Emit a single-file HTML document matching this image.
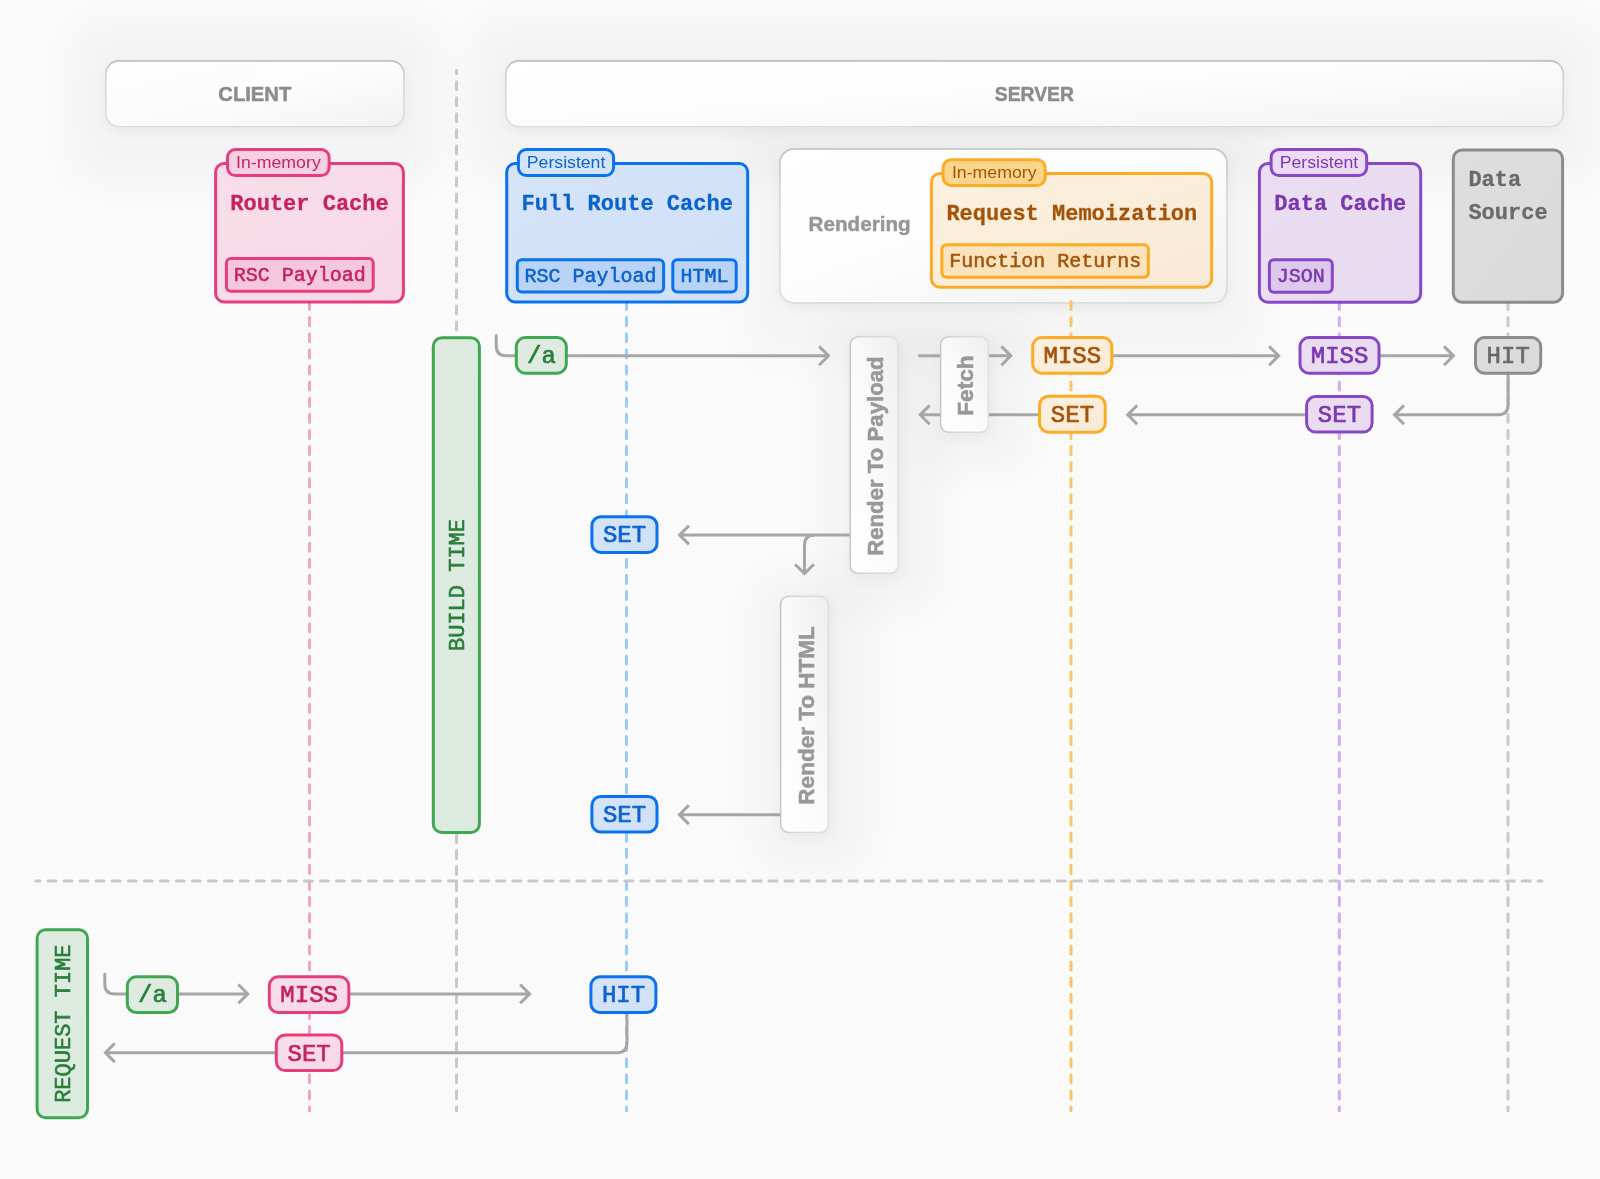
<!DOCTYPE html>
<html lang="en"><head><meta charset="utf-8"><title>Caching overview</title>
<style>html,body{margin:0;padding:0;background:#FAFAFA}body{width:1600px;height:1179px;overflow:hidden}svg{display:block;will-change:transform;opacity:0.9999}</style>
</head><body>
<svg width="1600" height="1179" viewBox="0 0 1600 1179">
<defs>
<filter id="bl" filterUnits="userSpaceOnUse" x="-100" y="-100" width="1800" height="1400"><feGaussianBlur stdDeviation="20"/></filter>
<filter id="sh" x="-10%" y="-40%" width="120%" height="200%"><feDropShadow dx="0" dy="4" stdDeviation="7" flood-color="#000" flood-opacity="0.045"/></filter>
<filter id="sh2" x="-80%" y="-20%" width="260%" height="140%"><feDropShadow dx="3" dy="4" stdDeviation="7" flood-color="#000" flood-opacity="0.05"/></filter>
<linearGradient id="gw" x1="0" y1="0" x2="1" y2="1"><stop offset="0" stop-color="#FFFFFF"/><stop offset="0.45" stop-color="#FDFDFD"/><stop offset="1" stop-color="#F2F2F2"/></linearGradient>
<linearGradient id="gwv" x1="0" y1="1" x2="1" y2="0"><stop offset="0" stop-color="#FFFFFF"/><stop offset="0.45" stop-color="#FBFBFB"/><stop offset="1" stop-color="#EEEEEE"/></linearGradient>
<linearGradient id="gbv" x1="0" y1="0" x2="1" y2="0"><stop offset="0" stop-color="#C6C6C6"/><stop offset="0.3" stop-color="#D8D8D8"/><stop offset="1" stop-color="#DEDEDE"/></linearGradient>
<linearGradient id="gb" x1="0" y1="0" x2="0" y2="1"><stop offset="0" stop-color="#BFBFBF"/><stop offset="0.3" stop-color="#D6D6D6"/><stop offset="1" stop-color="#DCDCDC"/></linearGradient>

<linearGradient id="gpink" x1="0" y1="0" x2="1" y2="1"><stop offset="0" stop-color="#F8DEE8"/><stop offset="1" stop-color="#F7D9E5"/></linearGradient>
<linearGradient id="gblue" x1="0" y1="0" x2="1" y2="1"><stop offset="0" stop-color="#D6E4F8"/><stop offset="1" stop-color="#CFE0F8"/></linearGradient>
<linearGradient id="gamber" x1="0" y1="0" x2="1" y2="1"><stop offset="0" stop-color="#FCF0DE"/><stop offset="1" stop-color="#F8EAD6"/></linearGradient>
<linearGradient id="gpurple" x1="0" y1="0" x2="1" y2="1"><stop offset="0" stop-color="#EBDDF1"/><stop offset="1" stop-color="#E8DAF0"/></linearGradient>
<linearGradient id="ggrey" x1="0" y1="0" x2="1" y2="1"><stop offset="0" stop-color="#DEDEDE"/><stop offset="1" stop-color="#DADADA"/></linearGradient>
<linearGradient id="ggreen" x1="0" y1="0" x2="1" y2="1"><stop offset="0" stop-color="#DFEBE1"/><stop offset="1" stop-color="#DCEADF"/></linearGradient>
</defs>
<rect width="1600" height="1179" fill="#FAFAFA"/>
<rect x="67.9" y="18.9" width="374.1" height="165.8" rx="30" fill="#000" opacity="0.022" filter="url(#bl)"/>
<rect x="467.9" y="18.9" width="1133.3" height="165.8" rx="30" fill="#000" opacity="0.022" filter="url(#bl)"/>
<rect x="741.9" y="107.1" width="523.1" height="253.8" rx="30" fill="#000" opacity="0.02" filter="url(#bl)"/>
<rect x="819.9" y="312.6" width="122.7" height="299.2" rx="30" fill="#000" opacity="0.022" filter="url(#bl)"/>
<rect x="910.3" y="312.6" width="122.5" height="158.1" rx="30" fill="#000" opacity="0.022" filter="url(#bl)"/>
<rect x="750.3" y="572.0" width="122.4" height="299.0" rx="30" fill="#000" opacity="0.022" filter="url(#bl)"/>
<rect x="105.90" y="60.90" width="298.10" height="65.80" rx="13" fill="url(#gw)" stroke="url(#gb)" stroke-width="1.6" filter="url(#sh)"/>
<rect x="505.90" y="60.90" width="1057.30" height="65.80" rx="13" fill="url(#gw)" stroke="url(#gb)" stroke-width="1.6" filter="url(#sh)"/>
<text x="254.80" y="100.90" font-family='"Liberation Sans", "DejaVu Sans", sans-serif' font-size="20.3" font-weight="bold" fill="#8C8C8C" text-anchor="middle" textLength="73.00" lengthAdjust="spacingAndGlyphs" stroke="#8C8C8C" stroke-width="0.5" stroke-linejoin="round" >CLIENT</text>
<text x="1034.40" y="100.90" font-family='"Liberation Sans", "DejaVu Sans", sans-serif' font-size="20.3" font-weight="bold" fill="#8C8C8C" text-anchor="middle" textLength="79.20" lengthAdjust="spacingAndGlyphs" stroke="#8C8C8C" stroke-width="0.5" stroke-linejoin="round" >SERVER</text>
<rect x="779.90" y="149.05" width="447.10" height="153.80" rx="14" fill="url(#gw)" stroke="url(#gb)" stroke-width="1.6" filter="url(#sh)"/>
<text x="808.60" y="230.80" font-family='"Liberation Sans", "DejaVu Sans", sans-serif' font-size="20.3" font-weight="bold" fill="#979797" text-anchor="start" textLength="102.00" lengthAdjust="spacingAndGlyphs" stroke="#979797" stroke-width="0.5" stroke-linejoin="round" >Rendering</text>
<line x1="456.5" y1="70.3" x2="456.5" y2="1110.8" stroke="#C8C8C8" stroke-width="3" stroke-dasharray="8.0 8.015" stroke-dashoffset="4.5" stroke-linecap="round"/>
<line x1="309.5" y1="301.5" x2="309.5" y2="1110.8" stroke="#F3A3C8" stroke-width="3" stroke-dasharray="8.05 8.06" stroke-dashoffset="0" stroke-linecap="round"/>
<line x1="626.5" y1="301.5" x2="626.5" y2="1110.8" stroke="#9CCBFA" stroke-width="3" stroke-dasharray="8.05 8.06" stroke-dashoffset="0" stroke-linecap="round"/>
<line x1="1071" y1="301.5" x2="1071" y2="1110.8" stroke="#F9C566" stroke-width="3" stroke-dasharray="8.05 8.06" stroke-dashoffset="0" stroke-linecap="round"/>
<line x1="1339.3" y1="301.5" x2="1339.3" y2="1110.8" stroke="#D6A9F2" stroke-width="3" stroke-dasharray="8.05 8.06" stroke-dashoffset="0" stroke-linecap="round"/>
<line x1="1508" y1="301.5" x2="1508" y2="1110.8" stroke="#CACACA" stroke-width="3" stroke-dasharray="8.05 8.06" stroke-dashoffset="0" stroke-linecap="round"/>
<line x1="35.7" y1="880.9" x2="1541.9" y2="880.9" stroke="#C8C8C8" stroke-width="3" stroke-dasharray="8.01 8.013" stroke-dashoffset="3.7" stroke-linecap="round"/>
<rect x="215.60" y="163.50" width="187.80" height="138.50" rx="8.5" fill="url(#gpink)" stroke="#E73C7E" stroke-width="3" />
<rect x="227.50" y="149.40" width="101.60" height="26.20" rx="8" fill="#F7D1E3" stroke="#E73C7E" stroke-width="3" />
<text x="278.40" y="167.90" font-family='"Liberation Sans", "DejaVu Sans", sans-serif' font-size="16" font-weight="normal" fill="#C4245F" text-anchor="middle" textLength="84.70" lengthAdjust="spacingAndGlyphs" >In-memory</text>
<text x="230.30" y="210.00" font-family='"Liberation Mono", "DejaVu Sans Mono", monospace' font-size="22" font-weight="bold" fill="#C4245F" text-anchor="start" stroke="#C4245F" stroke-width="0.28" stroke-linejoin="round" >Router Cache</text>
<rect x="226.40" y="258.40" width="146.80" height="32.90" rx="4.5" fill="#F5C7DC" stroke="#E73C7E" stroke-width="3" />
<text x="299.80" y="280.60" font-family='"Liberation Mono", "DejaVu Sans Mono", monospace' font-size="20" font-weight="normal" fill="#C4245F" text-anchor="middle" stroke="#C4245F" stroke-width="0.55" stroke-linejoin="round" >RSC Payload</text>
<rect x="506.70" y="163.50" width="241.00" height="138.50" rx="8.5" fill="url(#gblue)" stroke="#0A72EF" stroke-width="3" />
<rect x="518.40" y="149.40" width="95.20" height="26.20" rx="8" fill="#D3E4FB" stroke="#0A72EF" stroke-width="3" />
<text x="566.10" y="167.90" font-family='"Liberation Sans", "DejaVu Sans", sans-serif' font-size="16" font-weight="normal" fill="#0A63CF" text-anchor="middle" textLength="78.50" lengthAdjust="spacingAndGlyphs" >Persistent</text>
<text x="521.60" y="210.00" font-family='"Liberation Mono", "DejaVu Sans Mono", monospace' font-size="22" font-weight="bold" fill="#0A63CF" text-anchor="start" stroke="#0A63CF" stroke-width="0.28" stroke-linejoin="round" >Full Route Cache</text>
<rect x="517.30" y="259.70" width="146.30" height="32.40" rx="4.5" fill="#B9D3F7" stroke="#0A72EF" stroke-width="3" />
<text x="590.45" y="282.00" font-family='"Liberation Mono", "DejaVu Sans Mono", monospace' font-size="20" font-weight="normal" fill="#0A63CF" text-anchor="middle" stroke="#0A63CF" stroke-width="0.55" stroke-linejoin="round" >RSC Payload</text>
<rect x="672.80" y="259.70" width="63.40" height="32.40" rx="4.5" fill="#B9D3F7" stroke="#0A72EF" stroke-width="3" />
<text x="704.50" y="282.00" font-family='"Liberation Mono", "DejaVu Sans Mono", monospace' font-size="20" font-weight="normal" fill="#0A63CF" text-anchor="middle" stroke="#0A63CF" stroke-width="0.55" stroke-linejoin="round" >HTML</text>
<rect x="931.40" y="173.50" width="280.30" height="113.70" rx="8.5" fill="url(#gamber)" stroke="#FBAC24" stroke-width="3" />
<rect x="943.10" y="159.70" width="102.10" height="25.70" rx="8" fill="#FBD58C" stroke="#FBAC24" stroke-width="3" />
<text x="994.25" y="177.70" font-family='"Liberation Sans", "DejaVu Sans", sans-serif' font-size="16" font-weight="normal" fill="#A3540A" text-anchor="middle" textLength="84.70" lengthAdjust="spacingAndGlyphs" >In-memory</text>
<text x="946.40" y="220.00" font-family='"Liberation Mono", "DejaVu Sans Mono", monospace' font-size="22" font-weight="bold" fill="#A3540A" text-anchor="start" stroke="#A3540A" stroke-width="0.28" stroke-linejoin="round" >Request Memoization</text>
<rect x="941.90" y="244.65" width="206.50" height="32.65" rx="4.5" fill="#FBE3BD" stroke="#FBAC24" stroke-width="3" />
<text x="1045.15" y="267.00" font-family='"Liberation Mono", "DejaVu Sans Mono", monospace' font-size="20" font-weight="normal" fill="#A3540A" text-anchor="middle" stroke="#A3540A" stroke-width="0.55" stroke-linejoin="round" >Function Returns</text>
<rect x="1259.40" y="163.50" width="161.30" height="138.80" rx="8.5" fill="url(#gpurple)" stroke="#8747C9" stroke-width="3" />
<rect x="1271.10" y="149.40" width="95.60" height="26.20" rx="8" fill="#ECDAF6" stroke="#8747C9" stroke-width="3" />
<text x="1319.00" y="167.90" font-family='"Liberation Sans", "DejaVu Sans", sans-serif' font-size="16" font-weight="normal" fill="#7A38B0" text-anchor="middle" textLength="78.50" lengthAdjust="spacingAndGlyphs" >Persistent</text>
<text x="1274.30" y="210.00" font-family='"Liberation Mono", "DejaVu Sans Mono", monospace' font-size="22" font-weight="bold" fill="#7A38B0" text-anchor="start" stroke="#7A38B0" stroke-width="0.28" stroke-linejoin="round" >Data Cache</text>
<rect x="1269.40" y="259.70" width="62.90" height="32.60" rx="4.5" fill="#DDC9EB" stroke="#8747C9" stroke-width="3" />
<text x="1300.85" y="282.00" font-family='"Liberation Mono", "DejaVu Sans Mono", monospace' font-size="20" font-weight="normal" fill="#7A38B0" text-anchor="middle" stroke="#7A38B0" stroke-width="0.55" stroke-linejoin="round" >JSON</text>
<rect x="1453.30" y="149.90" width="109.30" height="152.40" rx="9" fill="url(#ggrey)" stroke="#8C8C8C" stroke-width="3" />
<text x="1468.40" y="186.20" font-family='"Liberation Mono", "DejaVu Sans Mono", monospace' font-size="22" font-weight="bold" fill="#6A6A6A" text-anchor="start" stroke="#6A6A6A" stroke-width="0.28" stroke-linejoin="round" >Data</text>
<text x="1468.40" y="219.30" font-family='"Liberation Mono", "DejaVu Sans Mono", monospace' font-size="22" font-weight="bold" fill="#6A6A6A" text-anchor="start" stroke="#6A6A6A" stroke-width="0.28" stroke-linejoin="round" >Source</text>
<rect x="433.30" y="337.70" width="46.10" height="494.80" rx="8.5" fill="url(#ggreen)" stroke="#3FA652" stroke-width="3" />
<text transform="translate(464.40 585.00) rotate(-90)" font-family='"Liberation Mono", "DejaVu Sans Mono", monospace' font-size="22" font-weight="normal" fill="#2A7E3B" text-anchor="middle" stroke="#2A7E3B" stroke-width="0.6" stroke-linejoin="round">BUILD TIME</text>
<rect x="37.10" y="929.70" width="50.40" height="188.10" rx="8.5" fill="url(#ggreen)" stroke="#3FA652" stroke-width="3" />
<text transform="translate(69.80 1023.65) rotate(-90)" font-family='"Liberation Mono", "DejaVu Sans Mono", monospace' font-size="22" font-weight="normal" fill="#2A7E3B" text-anchor="middle" stroke="#2A7E3B" stroke-width="0.6" stroke-linejoin="round">REQUEST TIME</text>
<path d="M496.2 335.6V345.8Q496.2 355.8 506.2 355.8H517" fill="none" stroke="#A6A6A6" stroke-width="3" stroke-linecap="round" stroke-linejoin="miter"/>
<path d="M567 355.8H828.50 M819.10 346.40L828.50 355.8L819.10 365.20" fill="none" stroke="#A6A6A6" stroke-width="3" stroke-linecap="butt" stroke-linejoin="miter"/>
<path d="M918.2 355.8H941" fill="none" stroke="#A6A6A6" stroke-width="3" stroke-linecap="butt" stroke-linejoin="miter"/>
<path d="M988 355.8H1010.80 M1001.40 346.40L1010.80 355.8L1001.40 365.20" fill="none" stroke="#A6A6A6" stroke-width="3" stroke-linecap="butt" stroke-linejoin="miter"/>
<path d="M1112 355.8H1278.60 M1269.20 346.40L1278.60 355.8L1269.20 365.20" fill="none" stroke="#A6A6A6" stroke-width="3" stroke-linecap="butt" stroke-linejoin="miter"/>
<path d="M1380 355.8H1453.40 M1444.00 346.40L1453.40 355.8L1444.00 365.20" fill="none" stroke="#A6A6A6" stroke-width="3" stroke-linecap="butt" stroke-linejoin="miter"/>
<path d="M1508.1 373V404.8Q1508.1 414.8 1498.1 414.8H1394.6 M1404 405.4L1394.6 414.8L1404 424.2" fill="none" stroke="#A6A6A6" stroke-width="3" stroke-linecap="butt" stroke-linejoin="miter"/>
<path d="M1306 414.8H1127.80 M1137.20 405.40L1127.80 414.8L1137.20 424.20" fill="none" stroke="#A6A6A6" stroke-width="3" stroke-linecap="butt" stroke-linejoin="miter"/>
<path d="M1039 414.8H920.20 M929.60 405.40L920.20 414.8L929.60 424.20" fill="none" stroke="#A6A6A6" stroke-width="3" stroke-linecap="butt" stroke-linejoin="miter"/>
<path d="M851 535H679.60 M689.00 525.60L679.60 535L689.00 544.40" fill="none" stroke="#A6A6A6" stroke-width="3" stroke-linecap="butt" stroke-linejoin="miter"/>
<path d="M814.5 535Q804.5 535 804.5 545V573.6 M795.1 564.2L804.5 573.6L813.9 564.2" fill="none" stroke="#A6A6A6" stroke-width="3" stroke-linecap="butt" stroke-linejoin="miter"/>
<path d="M781 814.7H679.40 M688.80 805.30L679.40 814.7L688.80 824.10" fill="none" stroke="#A6A6A6" stroke-width="3" stroke-linecap="butt" stroke-linejoin="miter"/>
<path d="M104.8 974.2V983.9Q104.8 993.9 114.8 993.9H128" fill="none" stroke="#A6A6A6" stroke-width="3" stroke-linecap="round" stroke-linejoin="miter"/>
<path d="M178 993.9H247.80 M238.40 984.50L247.80 993.9L238.40 1003.30" fill="none" stroke="#A6A6A6" stroke-width="3" stroke-linecap="butt" stroke-linejoin="miter"/>
<path d="M349 993.9H529.60 M520.20 984.50L529.60 993.9L520.20 1003.30" fill="none" stroke="#A6A6A6" stroke-width="3" stroke-linecap="butt" stroke-linejoin="miter"/>
<path d="M627 1012V1042.7Q627 1052.7 617 1052.7H105.4 M114.8 1043.3L105.4 1052.7L114.8 1062.1" fill="none" stroke="#A6A6A6" stroke-width="3" stroke-linecap="butt" stroke-linejoin="miter"/>
<rect x="850.25" y="336.75" width="47.90" height="236.60" rx="8" fill="url(#gwv)" stroke="url(#gbv)" stroke-width="1.5" filter="url(#sh2)"/>
<text transform="translate(883.20 456.10) rotate(-90)" font-family='"Liberation Sans", "DejaVu Sans", sans-serif' font-size="22.4" font-weight="bold" fill="#989898" text-anchor="middle" textLength="199.50" lengthAdjust="spacingAndGlyphs" stroke="#989898" stroke-width="0.55" stroke-linejoin="round">Render To Payload</text>
<rect x="940.65" y="336.75" width="47.70" height="95.50" rx="8" fill="url(#gwv)" stroke="url(#gbv)" stroke-width="1.5" filter="url(#sh2)"/>
<text transform="translate(972.60 385.55) rotate(-90)" font-family='"Liberation Sans", "DejaVu Sans", sans-serif' font-size="22.4" font-weight="bold" fill="#989898" text-anchor="middle" textLength="60.50" lengthAdjust="spacingAndGlyphs" stroke="#989898" stroke-width="0.55" stroke-linejoin="round">Fetch</text>
<rect x="780.65" y="596.15" width="47.60" height="236.40" rx="8" fill="url(#gwv)" stroke="url(#gbv)" stroke-width="1.5" filter="url(#sh2)"/>
<text transform="translate(813.50 715.40) rotate(-90)" font-family='"Liberation Sans", "DejaVu Sans", sans-serif' font-size="22.4" font-weight="bold" fill="#989898" text-anchor="middle" textLength="178.50" lengthAdjust="spacingAndGlyphs" stroke="#989898" stroke-width="0.55" stroke-linejoin="round">Render To HTML</text>
<rect x="516.30" y="337.60" width="50.00" height="35.60" rx="9" fill="url(#ggreen)" stroke="#3FA652" stroke-width="3" />
<text x="541.40" y="363.10" font-family='"Liberation Mono", "DejaVu Sans Mono", monospace' font-size="24" font-weight="normal" fill="#2A7E3B" text-anchor="middle" stroke="#2A7E3B" stroke-width="0.7" stroke-linejoin="round" >/a</text>
<rect x="1032.70" y="337.60" width="79.10" height="35.60" rx="9" fill="url(#gamber)" stroke="#FBAC24" stroke-width="3" />
<text x="1072.35" y="363.10" font-family='"Liberation Mono", "DejaVu Sans Mono", monospace' font-size="24" font-weight="normal" fill="#A3540A" text-anchor="middle" stroke="#A3540A" stroke-width="0.7" stroke-linejoin="round" >MISS</text>
<rect x="1039.50" y="396.20" width="65.70" height="36.00" rx="9" fill="url(#gamber)" stroke="#FBAC24" stroke-width="3" />
<text x="1072.45" y="422.10" font-family='"Liberation Mono", "DejaVu Sans Mono", monospace' font-size="24" font-weight="normal" fill="#A3540A" text-anchor="middle" stroke="#A3540A" stroke-width="0.7" stroke-linejoin="round" >SET</text>
<rect x="1300.00" y="337.60" width="79.00" height="35.60" rx="9" fill="url(#gpurple)" stroke="#8747C9" stroke-width="3" />
<text x="1339.60" y="363.10" font-family='"Liberation Mono", "DejaVu Sans Mono", monospace' font-size="24" font-weight="normal" fill="#7A38B0" text-anchor="middle" stroke="#7A38B0" stroke-width="0.7" stroke-linejoin="round" >MISS</text>
<rect x="1306.60" y="396.50" width="65.50" height="35.60" rx="9" fill="url(#gpurple)" stroke="#8747C9" stroke-width="3" />
<text x="1339.45" y="422.00" font-family='"Liberation Mono", "DejaVu Sans Mono", monospace' font-size="24" font-weight="normal" fill="#7A38B0" text-anchor="middle" stroke="#7A38B0" stroke-width="0.7" stroke-linejoin="round" >SET</text>
<rect x="1475.50" y="337.60" width="65.20" height="35.60" rx="9" fill="url(#ggrey)" stroke="#8C8C8C" stroke-width="3" />
<text x="1508.20" y="363.10" font-family='"Liberation Mono", "DejaVu Sans Mono", monospace' font-size="24" font-weight="normal" fill="#6A6A6A" text-anchor="middle" stroke="#6A6A6A" stroke-width="0.7" stroke-linejoin="round" >HIT</text>
<rect x="591.90" y="516.70" width="65.10" height="35.70" rx="9" fill="url(#gblue)" stroke="#0A72EF" stroke-width="3" />
<text x="624.55" y="542.30" font-family='"Liberation Mono", "DejaVu Sans Mono", monospace' font-size="24" font-weight="normal" fill="#0A63CF" text-anchor="middle" stroke="#0A63CF" stroke-width="0.7" stroke-linejoin="round" >SET</text>
<rect x="591.90" y="796.40" width="65.10" height="35.60" rx="9" fill="url(#gblue)" stroke="#0A72EF" stroke-width="3" />
<text x="624.55" y="821.90" font-family='"Liberation Mono", "DejaVu Sans Mono", monospace' font-size="24" font-weight="normal" fill="#0A63CF" text-anchor="middle" stroke="#0A63CF" stroke-width="0.7" stroke-linejoin="round" >SET</text>
<rect x="127.30" y="976.80" width="50.20" height="35.70" rx="9" fill="url(#ggreen)" stroke="#3FA652" stroke-width="3" />
<text x="152.50" y="1002.40" font-family='"Liberation Mono", "DejaVu Sans Mono", monospace' font-size="24" font-weight="normal" fill="#2A7E3B" text-anchor="middle" stroke="#2A7E3B" stroke-width="0.7" stroke-linejoin="round" >/a</text>
<rect x="269.30" y="976.80" width="79.50" height="35.70" rx="9" fill="url(#gpink)" stroke="#E73C7E" stroke-width="3" />
<text x="309.15" y="1002.40" font-family='"Liberation Mono", "DejaVu Sans Mono", monospace' font-size="24" font-weight="normal" fill="#C4245F" text-anchor="middle" stroke="#C4245F" stroke-width="0.7" stroke-linejoin="round" >MISS</text>
<rect x="590.90" y="976.80" width="65.00" height="35.70" rx="9" fill="url(#gblue)" stroke="#0A72EF" stroke-width="3" />
<text x="623.50" y="1002.40" font-family='"Liberation Mono", "DejaVu Sans Mono", monospace' font-size="24" font-weight="normal" fill="#0A63CF" text-anchor="middle" stroke="#0A63CF" stroke-width="0.7" stroke-linejoin="round" >HIT</text>
<rect x="276.30" y="1034.90" width="65.50" height="35.70" rx="9" fill="url(#gpink)" stroke="#E73C7E" stroke-width="3" />
<text x="309.15" y="1060.50" font-family='"Liberation Mono", "DejaVu Sans Mono", monospace' font-size="24" font-weight="normal" fill="#C4245F" text-anchor="middle" stroke="#C4245F" stroke-width="0.7" stroke-linejoin="round" >SET</text>
</svg>
</body></html>
